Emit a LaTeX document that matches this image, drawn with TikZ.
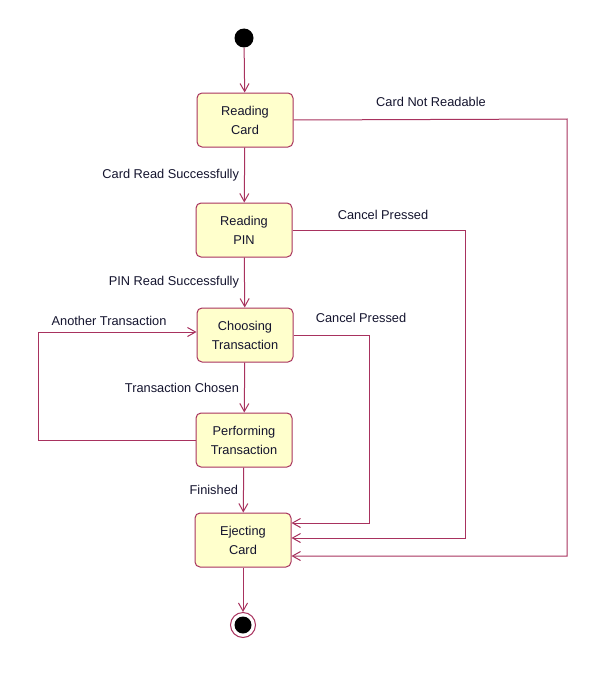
\documentclass[tikz,border=0pt]{standalone}
\usepackage{fontspec}
\setmainfont{Liberation Sans}
\usetikzlibrary{arrows.meta}

\definecolor{umlline}{HTML}{A8325E}
\definecolor{umlfill}{HTML}{FFFFCC}
\definecolor{umltext}{HTML}{14142E}

\begin{document}
\begin{tikzpicture}[
  x=1pt,
  y=-1pt,
  font=\fontsize{12.8}{15}\selectfont,
  text=umltext,
  state/.style={draw=umlline, fill=umlfill, rounded corners=5pt, align=center, font=\fontsize{12.8}{19}\selectfont, minimum width=96pt, minimum height=54pt, inner sep=2pt, line width=1pt},
  lbl/.style={inner sep=1pt},
  arr/.style={-{Straight Barb[length=8pt,width=9pt]}, draw=umlline, line width=1pt}
]
\useasboundingbox (0,0) rectangle (605,677);

% Start / Ende
\node[circle, fill=black, minimum size=19pt, inner sep=0pt] (start) at (244,38) {};
\node[circle, draw=umlline, line width=1pt, minimum size=25pt, inner sep=0pt] (stop) at (243,625) {};
\node[circle, fill=black, minimum size=17pt, inner sep=0pt] at (stop) {};

% Zustaende (eine Spalte)
\node[state] (readCard)  at (245,120) {Reading\\Card};
\node[state] (readPin)   at (244,230) {Reading\\PIN};
\node[state] (choose)    at (245,335) {Choosing\\Transaction};
\node[state] (perform)   at (244,440) {Performing\\Transaction};
\node[state] (eject)     at (243,540) {Ejecting\\Card};

% Hilfspunkte fuer die Rueckwege
\coordinate (cardR) at (567,119);
\coordinate (pinR)  at (465,230);
\coordinate (choR)  at (369,335);
\coordinate (anoL)  at (38,440);

% Hauptfluss
\draw[arr] (start) -- (readCard);
\draw[arr] (readCard) -- node[lbl, left=4pt] {Card Read Successfully} (readPin);
\draw[arr] (readPin) -- node[lbl, left=4pt] {PIN Read Successfully} (choose);
\draw[arr] (choose) -- node[lbl, left=4pt] {Transaction Chosen} (perform);
\draw[arr] (perform) -- node[lbl, left=4pt] {Finished} (eject);
\draw[arr] (eject) -- (stop);

% Abbrueche nach rechts
\draw[arr] (readCard.east) -- (cardR) -- (567,556) -- (eject.east |- 0,556);
\draw[arr] (readPin.east) -- (pinR) -- (465,538) -- (eject.east |- 0,538);
\draw[arr] (choose.east) -- (choR) -- (369,523) -- (eject.east |- 0,523);

% Schleife links
\draw[arr] (perform.west) -- (anoL) -- (38,332) -- (choose.west |- 0,332);

% Beschriftungen
\node[lbl] (lNotRead) at (431,102) {Card Not Readable};
\node[lbl] (lCancel1) at (383,215) {Cancel Pressed};
\node[lbl] (lCancel2) at (361,318) {Cancel Pressed};
\node[lbl] (lAnother) at (109,321) {Another Transaction};

\end{tikzpicture}
\end{document}
